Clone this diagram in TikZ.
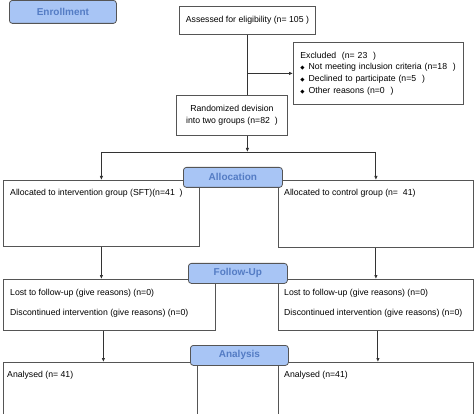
\documentclass[tikz,border=0pt]{standalone}
\usepackage{fontspec}
\setmainfont{Liberation Sans}
\newfontfamily\symbfont{DejaVu Sans}
\usepackage{tikz}
\newcommand{\txtsize}{\fontsize{8.7}{11.7}\selectfont}
\newcommand{\dia}{{\symbfont\fontsize{5.5}{5}\selectfont ◆}\hspace{4pt}}
\definecolor{stageBlue}{RGB}{168,197,245}
\definecolor{stageText}{RGB}{84,124,196}
\definecolor{edgeGray}{RGB}{85,85,85}
\usetikzlibrary{arrows.meta,calc,positioning}
\tikzset{
  >={Latex[length=4pt,width=3.5pt]},
  font=\txtsize,
  box/.style={draw=edgeGray,line width=0.8pt,shape=rectangle,anchor=north west,inner sep=0},
  stage/.style={draw=edgeGray,fill=stageBlue,rounded corners=3pt,line width=0.8pt,anchor=north west,inner sep=0,font=\fontsize{10}{12}\selectfont\bfseries,text=stageText},
  txt/.style={anchor=north west,inner sep=0,align=left},
  line/.style={draw=black!80,line width=0.9pt},
}

\begin{document}
\begin{tikzpicture}[x=1pt,y=-1pt]
  \useasboundingbox (0,0) rectangle (474,414);
  % boxes
  \node (assess) [box,minimum width=136pt,minimum height=28pt] at (179,6) {Assessed for eligibility (n= 105 )};
  \node (excl) [box,minimum height=62pt,text width=156pt,inner xsep=7pt,align=left] at (293,42)
    {Excluded\ \ (n= 23\ \ )\\
     \dia Not meeting inclusion criteria (n=18\ \ )\\
     \dia Declined to participate (n=5\ \ )\\
     \dia Other reasons (n=0\ \ )};
  \node (rand) [box,minimum width=111pt,minimum height=40pt,align=center] at (176,95)
    {Randomized devision\\into two groups (n=82\ \ )};
  \node (allocL) [box,minimum width=196pt,minimum height=66pt] at (3,180) {};
  \node (allocR) [box,minimum width=195pt,minimum height=67pt] at (278,180) {};
  \node (fuL) [box,minimum width=212pt,minimum height=51pt] at (3,279) {};
  \node (fuR) [box,minimum width=195pt,minimum height=51pt] at (278,279) {};
  \node (anL) [box,minimum width=194pt,minimum height=56pt] at (3,362) {};
  \node (anR) [box,minimum width=195pt,minimum height=56pt] at (278,362) {};
  % texts in the boxes
  \node (allocLtxt) [txt] at ([xshift=7pt,yshift=-8.5pt]allocL.north west) {Allocated to intervention group (SFT)(n=41\ \ )};
  \node (allocRtxt) [txt] at ([xshift=6pt,yshift=-8.5pt]allocR.north west) {Allocated to control group (n=\ \ 41)};
  \node (fuLtxt) [txt,font=\fontsize{8.7}{20}\selectfont] at ([xshift=7pt,yshift=-9.5pt]fuL.north west)
    {Lost to follow-up (give reasons) (n=0)\\Discontinued intervention (give reasons) (n=0)};
  \node (fuRtxt) [txt,font=\fontsize{8.7}{20}\selectfont] at ([xshift=6pt,yshift=-9.5pt]fuR.north west)
    {Lost to follow-up (give reasons) (n=0)\\Discontinued intervention (give reasons) (n=0)};
  \node (anLtxt) [txt] at ([xshift=4pt,yshift=-8.5pt]anL.north west) {Analysed (n= 41)};
  \node (anRtxt) [txt] at ([xshift=6pt,yshift=-8.5pt]anR.north west) {Analysed (n=41)};
  % connectors
  \coordinate (split) at (assess.south |- 0,152);
  \path [line] (assess.south) -- (assess.south |- rand.north);
  \path [line,->] (assess.south |- excl.west) -- (excl.west);
  \path [line,->] (assess.south |- rand.south) -- (split);
  \path [line] (allocL.north |- split) -- (allocR.north |- split);
  \path [line,->] (allocL.north |- split) -- (allocL.north);
  \path [line,->] (allocR.north |- split) -- (allocR.north);
  \path [line,->] (allocL.south) -- (allocL.south |- fuL.north);
  \path [line,->] (allocR.south) -- (allocR.south |- fuR.north);
  \path [line,->] ([xshift=2pt]allocL.south |- fuL.south) -- ([xshift=2pt]allocL.south |- anL.north);
  \path [line,->] ([xshift=2pt]allocR.south |- fuR.south) -- ([xshift=2pt]allocR.south |- anR.north);
  % stage labels
  \node (enrol) [stage,minimum width=107pt,minimum height=23pt] at (9,0) {Enrollment};
  \node (alloc) [stage,minimum width=99pt,minimum height=20pt] at (183,167) {Allocation};
  \node (follow) [stage,minimum width=99pt,minimum height=20pt] at (188,263) {Follow-Up};
  \node (anal) [stage,minimum width=98pt,minimum height=20pt] at (190,345) {Analysis};
\end{tikzpicture}
\end{document}
